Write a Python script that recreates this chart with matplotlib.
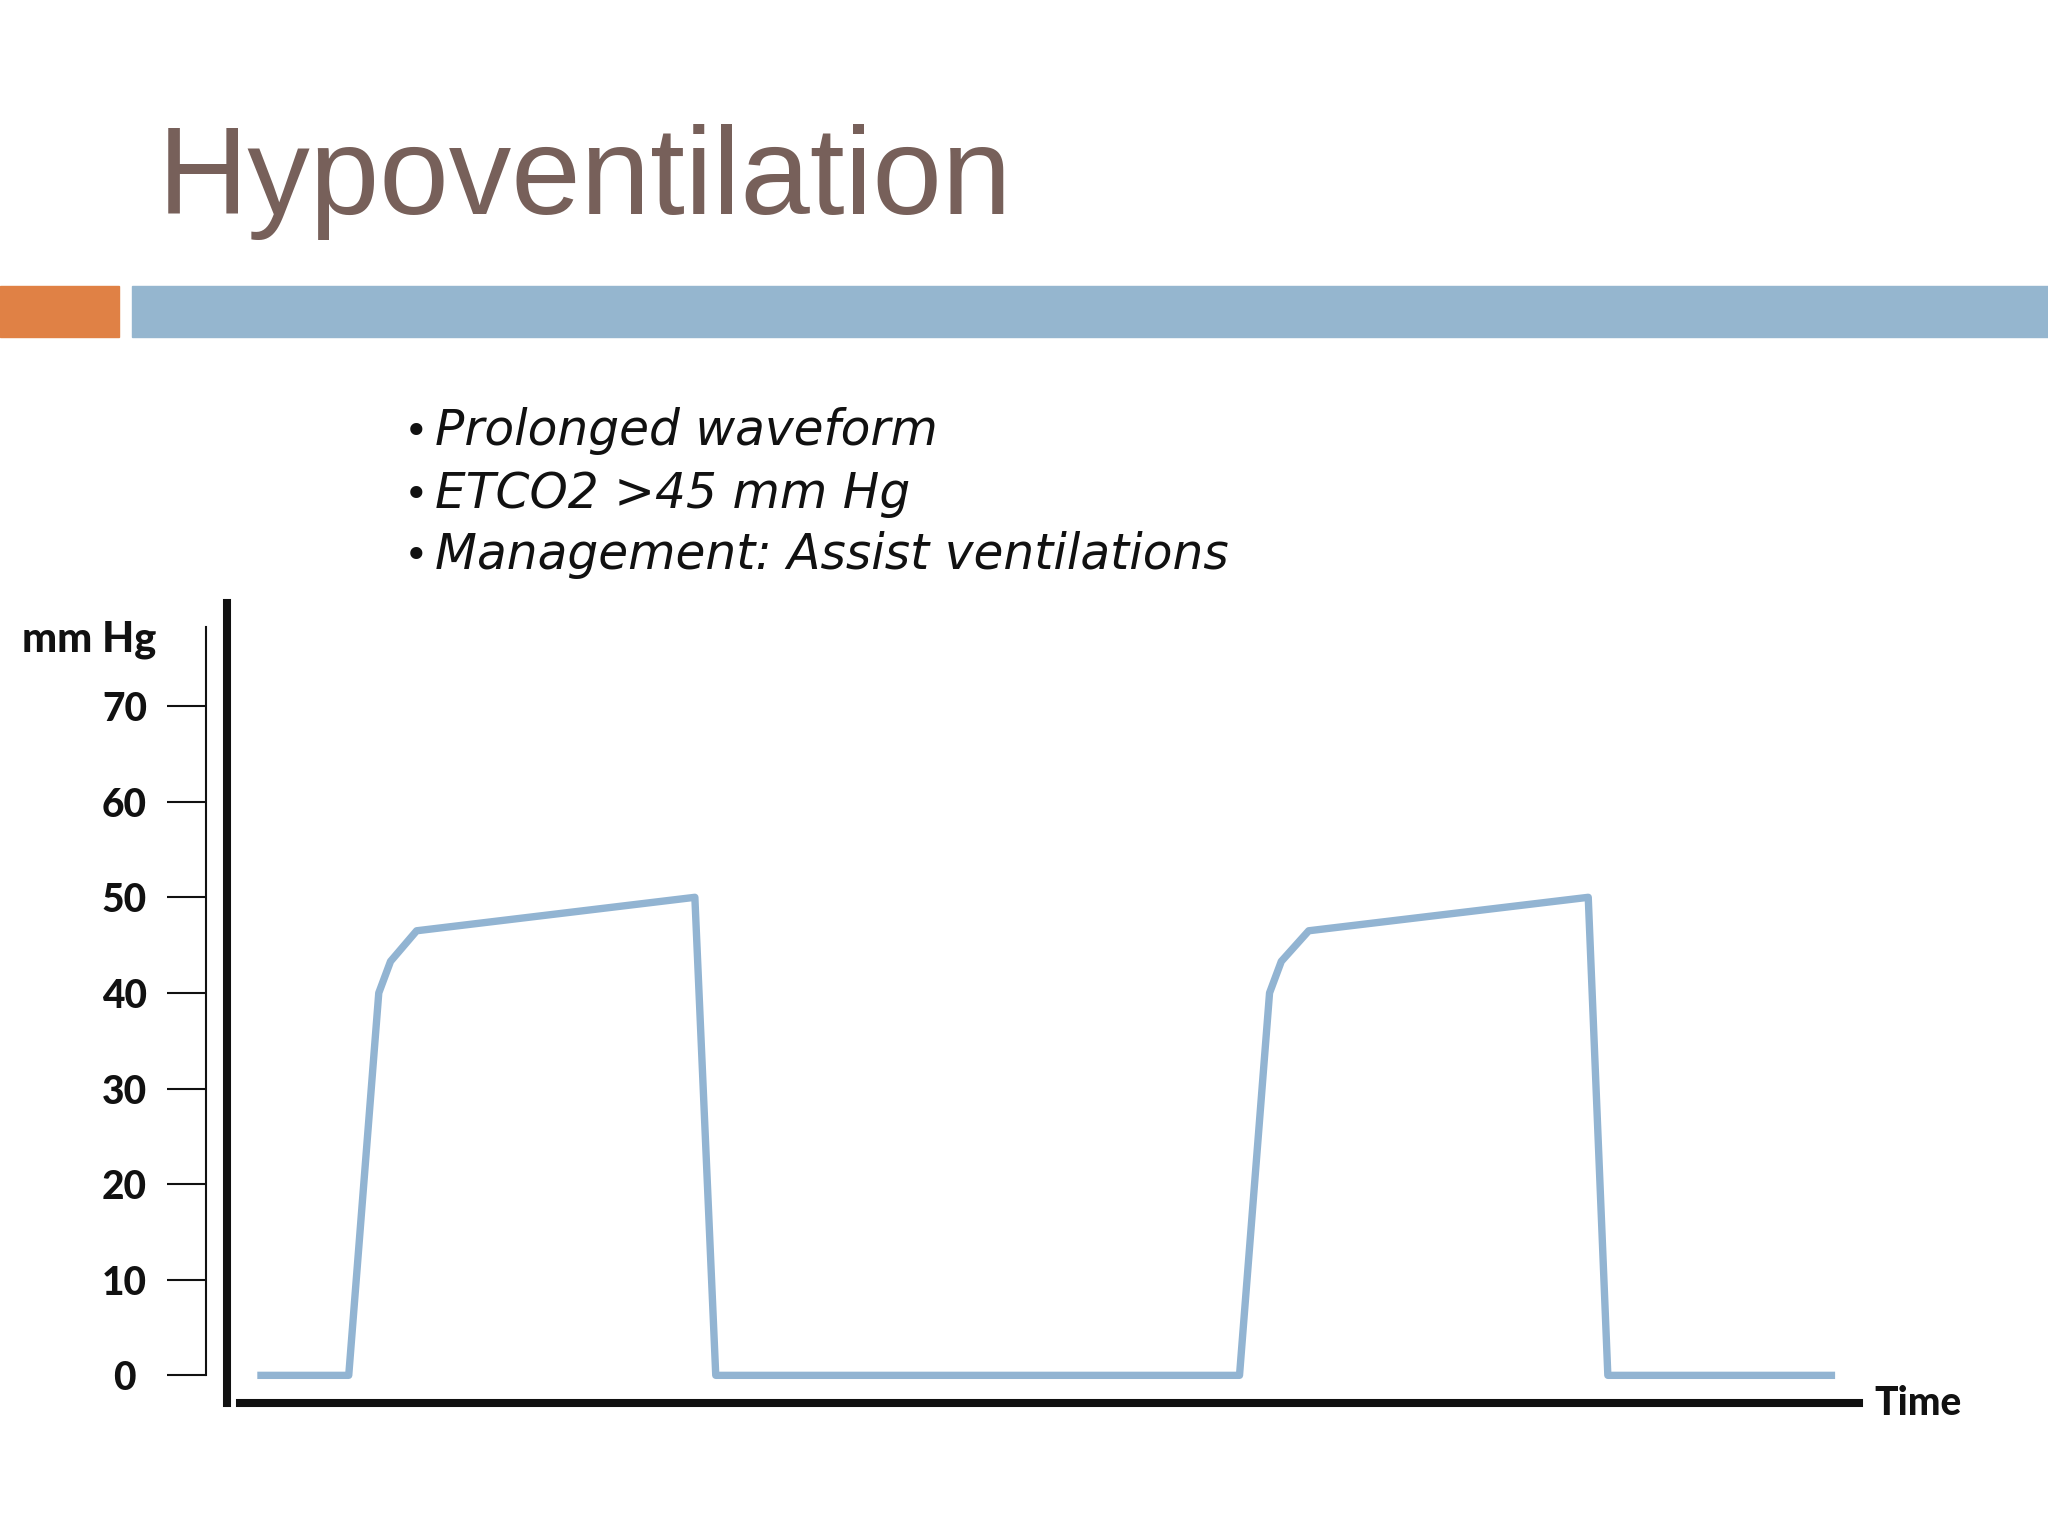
import matplotlib
matplotlib.use('Agg')
import matplotlib.pyplot as plt
from matplotlib.patches import Rectangle

# ---- data ----
title = "Hypoventilation"
bullets = ["Prolonged waveform", "ETCO2 >45 mm Hg", "Management: Assist ventilations"]
y_ticks = [0, 10, 20, 30, 40, 50, 60, 70]
y_label = "mm Hg"
x_label = "Time"
time = [0.0, 0.70, 0.93, 1.02, 1.22, 3.35, 3.51, 7.52, 7.75, 7.84, 8.05, 10.19, 10.34, 12.08]
co2 = [0, 0, 40, 43.3, 46.5, 50, 0, 0, 40, 43.3, 46.5, 50, 0, 0]

# ---- layout helpers (reference measured on a 1568x1176 view) ----
W, H = 2048, 1536
f = W / 1568.0
def fx(d):
    return d * f / W
def fy(d):
    return 1 - d * f / H

fig = plt.figure(figsize=(20.48, 15.36), dpi=100, facecolor='white')

# header bars
fig.patches.append(Rectangle((0, fy(258)), fx(91), fy(219) - fy(258),
                             transform=fig.transFigure, color='#e08145', zorder=0))
fig.patches.append(Rectangle((fx(101), fy(258)), 1 - fx(101), fy(219) - fy(258),
                             transform=fig.transFigure, color='#95b6cf', zorder=0))

fig.text(fx(121), fy(164), title, fontsize=90, family='Liberation Sans',
         color='#77605a', va='baseline', ha='left')

bullet_base = [341, 389, 436]
for b, yb in zip(bullets, bullet_base):
    fig.text(fx(309), fy(yb), "\u2022", fontsize=30, family='DejaVu Sans',
             color='#111111', va='baseline', ha='left')
    fig.text(fx(333), fy(yb), b, fontsize=35, family='DejaVu Sans', style='italic',
             color='#111111', va='baseline', ha='left')

# ---- main waveform axes ----
left, right = fx(174), fx(1423)
bottom, top = fy(1074), fy(462)
ppu = (1053 - 687) / 50.0
ylim = (-(1074 - 1053) / ppu, (1053 - 462) / ppu)
xlim = ((174 - 197) / 100.0, (1423 - 197) / 100.0)

ax = fig.add_axes([left, bottom, right - left, top - bottom])
ax.set_xlim(*xlim)
ax.set_ylim(*ylim)
ax.patch.set_visible(False)
ax.plot(time, co2, color='#92b4d2', lw=5.3, solid_joinstyle='round',
        solid_capstyle='butt', zorder=3)
for s in ['top', 'right']:
    ax.spines[s].set_visible(False)
for s in ['left', 'bottom']:
    ax.spines[s].set_linewidth(5.8)
    ax.spines[s].set_color('#111111')
ax.spines['bottom'].set_bounds((184 - 197) / 100.0, xlim[1])
ax.set_xticks([])
ax.set_yticks([])

# ---- mm Hg scale ----
sx = fig.add_axes([fx(158), bottom, 0.001, top - bottom])
sx.set_ylim(*ylim)
sx.patch.set_visible(False)
for s in ['top', 'right', 'bottom']:
    sx.spines[s].set_visible(False)
sx.spines['left'].set_linewidth(1.5)
sx.spines['left'].set_color('#111111')
sx.spines['left'].set_bounds(0, (1053 - 480) / ppu)
sx.set_xticks([])
sx.set_yticks(y_ticks)
sx.set_yticklabels([str(t) for t in y_ticks])
sx.tick_params(axis='y', direction='out', length=28, width=1.5, pad=31,
               labelsize=28, colors='#111111')
for lbl in sx.get_yticklabels():
    lbl.set_horizontalalignment('center')
    lbl.set_fontweight('black')
    lbl.set_family('Lato')

fig.text(fx(17), fy(499), y_label, fontsize=30, fontweight='black',
         family='Lato', color='#111111', va='baseline', ha='left')
fig.text(fx(1435), fy(1083), x_label, fontsize=28, fontweight='black',
         family='Lato', color='#111111', va='baseline', ha='left')

fig.savefig('out.png', dpi=100, facecolor='white')
